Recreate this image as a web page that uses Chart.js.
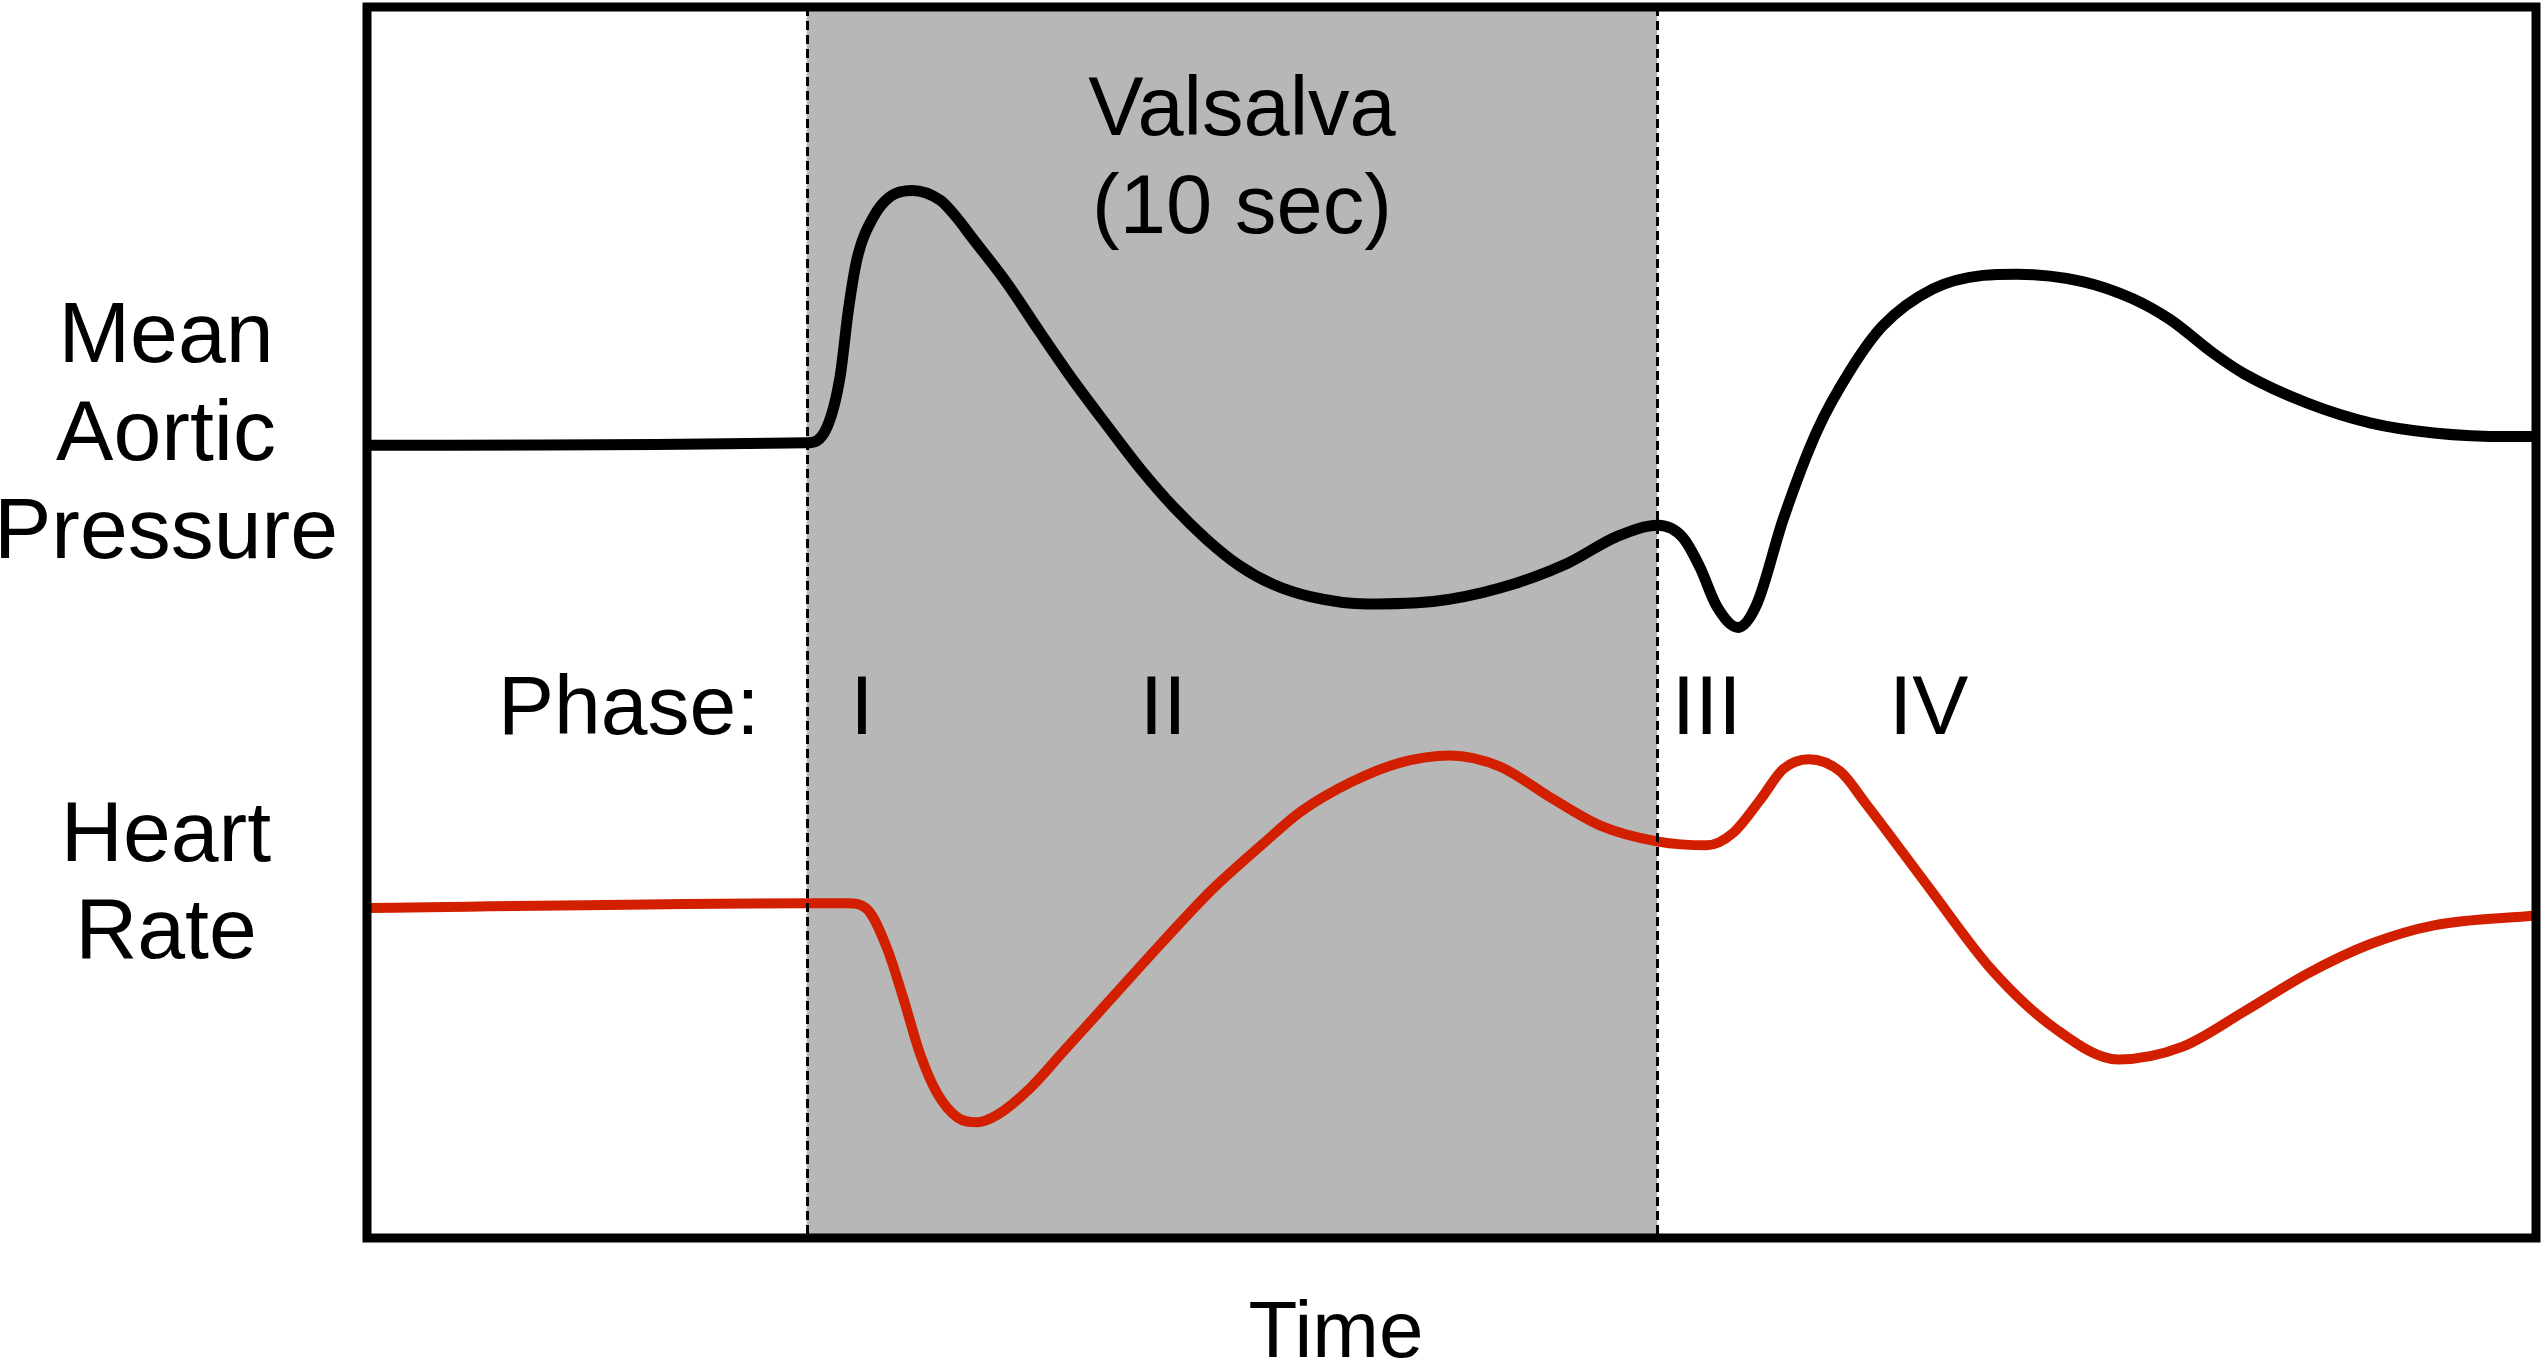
<!DOCTYPE html>
<html>
<head>
<meta charset="utf-8">
<title>Valsalva maneuver</title>
<script src="https://cdn.jsdelivr.net/npm/chart.js@4.4.1/dist/chart.umd.min.js"></script>
<style>
  html, body { margin: 0; padding: 0; background: #fff; }
  #wrap { width: 2543px; height: 1361px; position: relative; }
</style>
</head>
<body>
<div id="wrap"><canvas id="chart"></canvas></div>
<script>
// time in seconds, values in relative units (0 = bottom of frame, 100 = top)
const pressureTime = [0, 5.17, 5.41, 5.56, 5.66, 5.76, 5.95, 6.15, 6.41, 6.74, 6.92, 7.12, 7.52, 7.91, 8.30, 8.70, 9.09, 9.48, 9.88, 10.26, 10.65,
  11.09, 11.76, 12.53, 13.32, 14.11, 14.70, 15.18, 15.47, 15.67, 15.87, 16.12, 16.34, 16.65, 17.05, 17.44, 17.82, 18.41, 19.00, 19.40,
  20.17, 20.76, 21.20, 21.70, 22.07, 22.82, 23.56, 24.30, 25.19, 25.5];
const pressure = [64.4, 64.6, 65.9, 69.9, 75.4, 79.5, 82.9, 84.6, 85.1, 84.3, 83.0, 81.2, 77.6, 73.6, 69.7, 66.0, 62.5, 59.4, 56.7, 54.6, 53.1,
  52.1, 51.5, 51.7, 52.8, 54.8, 57.0, 57.9, 56.9, 54.5, 51.3, 49.6, 51.5, 58.4, 65.6, 70.5, 74.1, 77.1, 78.2, 78.3,
  77.7, 76.3, 74.6, 71.9, 70.2, 67.8, 66.2, 65.4, 65.1, 65.1];

const heartTime = [0, 5.17, 5.64, 5.88, 6.11, 6.30, 6.50, 6.70, 6.94, 7.17, 7.41, 7.80, 8.18, 8.77, 9.36, 9.95, 10.53, 10.97, 11.56, 12.14,
  12.73, 13.32, 13.91, 14.50, 15.18, 15.75, 16.06, 16.38, 16.65, 16.95, 17.32, 17.62, 18.36, 19.10, 19.85, 20.59, 21.33, 22.07, 22.82, 23.56,
  24.30, 25.5];
const heartRate = [26.8, 27.2, 27.2, 26.7, 23.6, 19.6, 15.0, 11.8, 9.8, 9.4, 10.0, 12.2, 15.1, 19.6, 24.1, 28.4, 32.0, 34.6, 37.0, 38.6,
  39.2, 38.3, 35.8, 33.5, 32.2, 31.9, 32.9, 35.6, 38.1, 38.9, 37.9, 35.3, 28.5, 21.8, 17.0, 14.5, 15.5, 18.4, 21.5, 23.9,
  25.4, 26.2];

const valsalvaWindow = [5.17, 15.17];
const phaseNames = ["I", "II", "III", "IV"];
const phaseAt = [5.82, 9.36, 15.75, 18.36];

const pressureLabel = ["Mean", "Aortic", "Pressure"];
const heartLabel = ["Heart", "Rate"];
const valsalvaLabel = ["Valsalva", "(10 sec)"];

const FONT = "'Liberation Sans', Arial, Helvetica, sans-serif";

function toPoints(xs, ys) {
  return xs.map((t, i) => ({ x: t, y: ys[i] }));
}

const framePlugin = {
  id: "frame",
  beforeDatasetsDraw(chart) {
    const { ctx, chartArea: a, scales } = chart;
    const x0 = scales.x.getPixelForValue(valsalvaWindow[0]);
    const x1 = scales.x.getPixelForValue(valsalvaWindow[1]);
    ctx.save();
    ctx.fillStyle = "#b7b7b7";
    ctx.fillRect(x0, a.top, x1 - x0, a.bottom - a.top);
    ctx.restore();
  },
  afterDatasetsDraw(chart) {
    const { ctx, chartArea: a, scales } = chart;
    ctx.save();
    // dashed lines at start / end of the strain
    ctx.strokeStyle = "#000";
    ctx.lineWidth = 3;
    ctx.setLineDash([9, 5]);
    valsalvaWindow.forEach(t => {
      const px = Math.round(scales.x.getPixelForValue(t)) + 0.5;
      ctx.beginPath();
      ctx.moveTo(px, a.top);
      ctx.lineTo(px, a.bottom);
      ctx.stroke();
    });
    // frame
    ctx.setLineDash([]);
    ctx.lineWidth = 9;
    ctx.strokeRect(a.left, a.top, a.right - a.left, a.bottom - a.top);
    ctx.restore();
  },
  afterDraw(chart) {
    const { ctx, scales } = chart;
    ctx.save();
    ctx.fillStyle = "#000";
    ctx.textBaseline = "alphabetic";

    // left side labels
    ctx.textAlign = "center";
    ctx.font = "86px " + FONT;
    pressureLabel.forEach((s, i) => ctx.fillText(s, 166, 362 + i * 98));
    heartLabel.forEach((s, i) => ctx.fillText(s, 166, 861 + i * 97));

    // Valsalva title
    ctx.font = "83px " + FONT;
    valsalvaLabel.forEach((s, i) => ctx.fillText(s, 1242, 135 + i * 98));

    // phases
    ctx.font = "84px " + FONT;
    ctx.textAlign = "left";
    ctx.fillText("Phase:", 498, 734);
    ctx.textAlign = "center";
    phaseNames.forEach((s, i) => ctx.fillText(s, scales.x.getPixelForValue(phaseAt[i]), 734));

    // x axis title
    ctx.font = "80px " + FONT;
    ctx.fillText("Time", 1336, 1357);
    ctx.restore();
  }
};

new Chart(document.getElementById("chart"), {
  type: "line",
  data: {
    datasets: [
      {
        label: "Mean Aortic Pressure",
        data: toPoints(pressureTime, pressure),
        borderColor: "#000000",
        borderWidth: 11,
        pointRadius: 0,
        cubicInterpolationMode: "monotone",
        borderJoinStyle: "round",
        fill: false
      },
      {
        label: "Heart Rate",
        data: toPoints(heartTime, heartRate),
        borderColor: "#d21f00",
        borderWidth: 10,
        pointRadius: 0,
        cubicInterpolationMode: "monotone",
        borderJoinStyle: "round",
        fill: false
      }
    ]
  },
  options: {
    responsive: true,
    maintainAspectRatio: false,
    animation: false,
    events: [],
    layout: { padding: { left: 367, top: 7, right: 7, bottom: 123 } },
    plugins: {
      legend: { display: false },
      tooltip: { enabled: false }
    },
    scales: {
      x: { type: "linear", min: 0, max: 25.5, display: false },
      y: { type: "linear", min: 0, max: 100, display: false }
    }
  },
  plugins: [framePlugin]
});
</script>
</body>
</html>
